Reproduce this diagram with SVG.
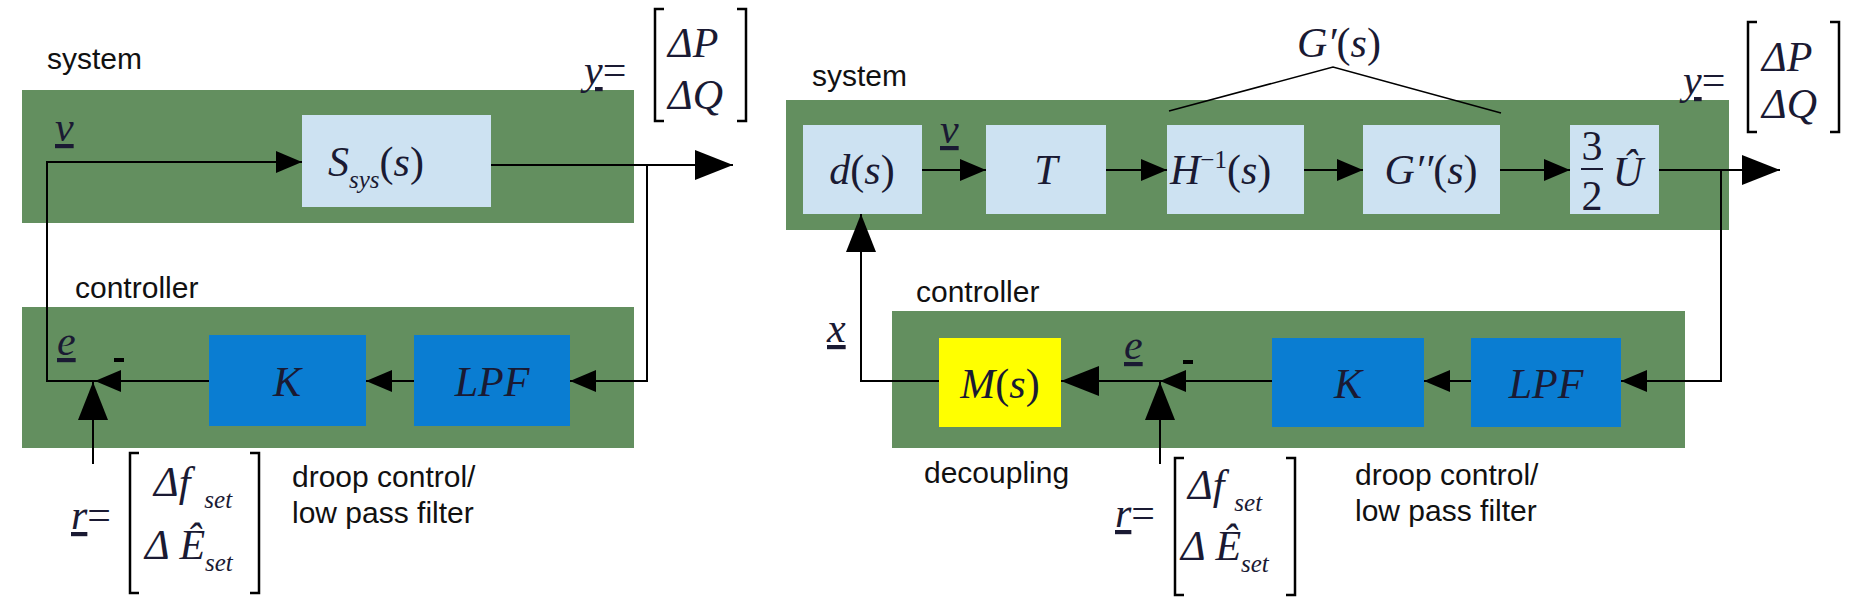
<svg xmlns="http://www.w3.org/2000/svg" width="1859" height="599" viewBox="0 0 1859 599">
<style>
.bg{fill:#638f5f}
.lb{fill:#cde2f2}
.bl{fill:#0a7dd2}
.ye{fill:#ffff00}
.lbl{font-family:"Liberation Sans",Arial,sans-serif;font-size:30px;fill:#111}
.m{font-family:"Liberation Serif","Times New Roman",serif;font-style:italic;font-size:42px;fill:#1a1a33}
.mb{font-family:"Liberation Serif","Times New Roman",serif;font-style:normal;font-size:42px;fill:#1a1a33}
.sub{font-size:25px}
.ln{stroke:#000;stroke-width:2;fill:none}
.br{stroke:#000;stroke-width:2.5;fill:none}
</style>
<defs>
<marker id="A" viewBox="0 0 10 10" refX="10" refY="5" markerWidth="38" markerHeight="30" markerUnits="userSpaceOnUse" orient="auto" preserveAspectRatio="none"><path d="M0,0L10,5L0,10z" fill="#000"/></marker>
<marker id="m" viewBox="0 0 10 10" refX="10" refY="5" markerWidth="26" markerHeight="22" markerUnits="userSpaceOnUse" orient="auto" preserveAspectRatio="none"><path d="M0,0L10,5L0,10z" fill="#000"/></marker>
</defs>

<!-- left diagram -->
<g id="sys1"><text class="lbl" x="47" y="69">system</text><rect class="bg" x="22" y="90" width="612" height="133"/></g>
<g id="ctl1"><text class="lbl" x="75" y="298">controller</text><rect class="bg" x="22" y="307" width="612" height="141"/></g>
<g id="ssys"><rect class="lb" x="302" y="115" width="189" height="92"/><text class="m" x="328" y="176">S<tspan class="sub" dy="12">sys</tspan><tspan class="mb" dy="-12">(</tspan>s<tspan class="mb">)</tspan></text></g>
<g id="k1"><rect class="bl" x="209" y="335" width="157" height="91"/><text class="m" x="287" y="396" text-anchor="middle">K</text></g>
<g id="lpf1"><rect class="bl" x="414" y="335" width="156" height="91"/><text class="m" x="492" y="396" text-anchor="middle">LPF</text></g>

<g id="labels1">
<text class="m" x="55" y="141" text-decoration="underline" font-size="36">v</text>
<text class="m" x="57" y="355" text-decoration="underline" font-size="36">e</text>
<rect x="114" y="358" width="10" height="4" fill="#000"/>
<text class="m" x="584" y="84" font-size="38"><tspan text-decoration="underline">y</tspan><tspan class="mb">=</tspan></text>
<path class="br" d="M664,9h-9v112h9M737,9h9v112h-9"/>
<text class="m" x="668" y="57">ΔP</text>
<text class="m" x="668" y="109">ΔQ</text>
<text class="m" x="71" y="529" font-size="38"><tspan text-decoration="underline">r</tspan><tspan class="mb">=</tspan></text>
<path class="br" d="M139,453h-9v140h9M250,453h9v140h-9"/>
<text class="m" x="154" y="496">Δf<tspan class="sub" dx="14" dy="12">set</tspan></text>
<text class="m" x="145" y="559">Δ Ê<tspan class="sub" dy="12">set</tspan></text>
<text class="lbl" x="292" y="487">droop control/</text>
<text class="lbl" x="292" y="523">low pass filter</text>
</g>

<!-- right diagram -->
<g id="sys2"><text class="lbl" x="812" y="86">system</text><rect class="bg" x="786" y="100" width="943" height="130"/></g>
<g id="ctl2"><text class="lbl" x="916" y="302">controller</text><rect class="bg" x="892" y="311" width="793" height="137"/></g>
<g id="ds"><rect class="lb" x="803" y="125" width="119" height="89"/><text class="m" x="862" y="184" text-anchor="middle">d<tspan class="mb">(</tspan>s<tspan class="mb">)</tspan></text></g>
<g id="T"><rect class="lb" x="986" y="125" width="120" height="89"/><text class="m" x="1046" y="184" text-anchor="middle">T</text></g>
<g id="Hinv"><rect class="lb" x="1167" y="125" width="137" height="89"/><text class="m" x="1170" y="184">H<tspan class="sub" font-style="normal" dy="-16">−1</tspan><tspan class="mb" dy="16">(</tspan>s<tspan class="mb">)</tspan></text></g>
<g id="Gpp"><rect class="lb" x="1363" y="125" width="137" height="89"/><text class="m" x="1431" y="184" text-anchor="middle">G′′<tspan class="mb">(</tspan>s<tspan class="mb">)</tspan></text></g>
<g id="U"><rect class="lb" x="1570" y="125" width="89" height="89"/><text class="mb" x="1592" y="160" font-size="32" text-anchor="middle">3</text><line x1="1581" y1="169" x2="1603" y2="169" stroke="#1a1a33" stroke-width="2"/><text class="mb" x="1592" y="210" font-size="32" text-anchor="middle">2</text><text class="m" x="1628" y="186" text-anchor="middle">Û</text></g>
<g id="M"><rect class="ye" x="939" y="338" width="122" height="89"/><text class="m" x="1000" y="398" text-anchor="middle">M<tspan class="mb">(</tspan>s<tspan class="mb">)</tspan></text></g>
<g id="k2"><rect class="bl" x="1272" y="338" width="152" height="89"/><text class="m" x="1348" y="398" text-anchor="middle">K</text></g>
<g id="lpf2"><rect class="bl" x="1471" y="338" width="150" height="89"/><text class="m" x="1546" y="398" text-anchor="middle">LPF</text></g>

<g id="labels2">
<text class="m" x="1297" y="57">G′<tspan class="mb">(</tspan>s<tspan class="mb">)</tspan></text>
<path d="M1169,111L1333,67L1501,113" stroke="#000" stroke-width="1.5" fill="none"/>
<text class="m" x="940" y="143" text-decoration="underline" font-size="36">v</text>
<text class="m" x="827" y="342" text-decoration="underline" font-size="36">x</text>
<text class="m" x="1124" y="359" text-decoration="underline" font-size="36">e</text>
<rect x="1183" y="360" width="10" height="4" fill="#000"/>
<text class="lbl" x="924" y="483">decoupling</text>
<text class="m" x="1683" y="94" font-size="38"><tspan text-decoration="underline">y</tspan><tspan class="mb">=</tspan></text>
<path class="br" d="M1757,22h-9v110h9M1830,22h9v110h-9"/>
<text class="m" x="1762" y="71">ΔP</text>
<text class="m" x="1762" y="118">ΔQ</text>
<text class="m" x="1115" y="527" font-size="38"><tspan text-decoration="underline">r</tspan><tspan class="mb">=</tspan></text>
<path class="br" d="M1184,458h-9v137h9M1286,458h9v137h-9"/>
<text class="m" x="1188" y="499">Δf<tspan class="sub" dx="10" dy="12">set</tspan></text>
<text class="m" x="1181" y="560">Δ Ê<tspan class="sub" dy="12">set</tspan></text>
<text class="lbl" x="1355" y="485">droop control/</text>
<text class="lbl" x="1355" y="521">low pass filter</text>
</g>

<g id="connectors">
<path class="ln" d="M209,381H47V162H302" marker-end="url(#m)"/>
<path class="ln" d="M491,165H733" marker-end="url(#A)"/>
<path class="ln" d="M647,165V381H570" marker-end="url(#m)"/>
<path class="ln" d="M414,381H366" marker-end="url(#m)"/>
<path class="ln" d="M160,381H95" marker-end="url(#m)"/>
<path class="ln" d="M93,464V382" marker-end="url(#A)"/>
<path class="ln" d="M922,170H986" marker-end="url(#m)"/>
<path class="ln" d="M1106,170H1167" marker-end="url(#m)"/>
<path class="ln" d="M1304,170H1363" marker-end="url(#m)"/>
<path class="ln" d="M1500,170H1570" marker-end="url(#m)"/>
<path class="ln" d="M1659,170H1780" marker-end="url(#A)"/>
<path class="ln" d="M1721,170V381H1621" marker-end="url(#m)"/>
<path class="ln" d="M1471,381H1424" marker-end="url(#m)"/>
<path class="ln" d="M1272,381H1160" marker-end="url(#m)"/>
<path class="ln" d="M1160,381H1061" marker-end="url(#A)"/>
<path class="ln" d="M939,381H861V214" marker-end="url(#A)"/>
<path class="ln" d="M1160,464V382" marker-end="url(#A)"/>
</g>
</svg>
